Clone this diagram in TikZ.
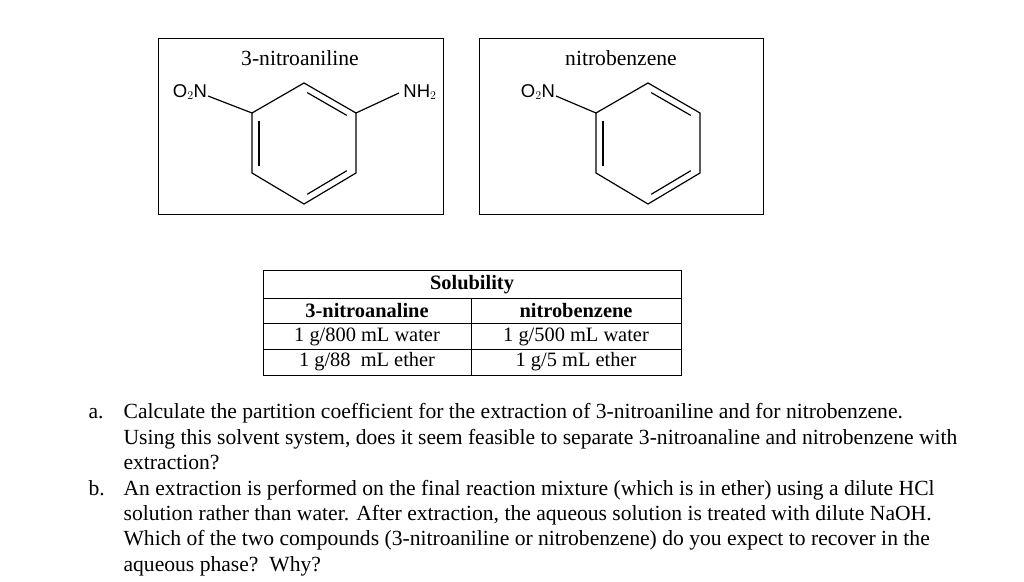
\documentclass[tikz,border=0pt]{standalone}
\usepackage{fontspec}
\usetikzlibrary{calc}
\setmainfont{Liberation Serif}
\newfontfamily\lsans{Liberation Sans}
\begin{document}
\begin{tikzpicture}[x=1pt,y=-1pt,line width=1.2pt,
  txt/.style={font=\fontsize{21.6}{24}\selectfont,inner sep=0pt},
  tb/.style={font=\fontsize{20.4}{22}\selectfont,inner sep=0pt},
  tbb/.style={font=\bfseries\fontsize{20.4}{22}\selectfont,inner sep=0pt},
  atom/.style={font=\lsans\fontsize{18.5}{20}\selectfont,inner sep=0pt},
  bond/.style={line width=1.2pt}]
\useasboundingbox (0,0) rectangle (1024,581);
% boxes
\draw[line width=1pt] (158,38) rectangle (443,214);
\draw[line width=1pt] (479,38) rectangle (763,214);
\node[txt] (t1) at (300,58) {3-nitroaniline};
\node[txt] (t2) at (621,58) {nitrobenzene};
% ring 1
\coordinate (a1) at (304,83); \coordinate (a2) at (356,113); \coordinate (a3) at (356,173);
\coordinate (a4) at (304,204); \coordinate (a5) at (252,173); \coordinate (a6) at (252,113);
\draw[bond] (a1)--(a2)--(a3)--(a4)--(a5)--(a6)--cycle;
\draw[bond] ($(a1)!0.12!(a2)+(-3,6)$) -- ($(a1)!0.88!(a2)+(-3,6)$);
\draw[bond] (259,121) -- (259,166);
\draw[bond] ($(a4)!0.12!(a3)+(-3,-6)$) -- ($(a4)!0.88!(a3)+(-3,-6)$);
\node[atom] (n1) at (190,92) {O$_2$N};
\node[atom] (n2) at (420,92) {NH$_2$};
\draw[bond] (208,96) -- (a6);
\draw[bond] (a2) -- (399,93);
% ring 2
\coordinate (b1) at (648,83); \coordinate (b2) at (700,113); \coordinate (b3) at (700,173);
\coordinate (b4) at (648,204); \coordinate (b5) at (596,173); \coordinate (b6) at (596,113);
\draw[bond] (b1)--(b2)--(b3)--(b4)--(b5)--(b6)--cycle;
\draw[bond] ($(b1)!0.12!(b2)+(-3,6)$) -- ($(b1)!0.88!(b2)+(-3,6)$);
\draw[bond] (603,121) -- (603,166);
\draw[bond] ($(b4)!0.12!(b3)+(-3,-6)$) -- ($(b4)!0.88!(b3)+(-3,-6)$);
\node[atom] (n3) at (538,92) {O$_2$N};
\draw[bond] (556,96) -- (b6);
% table
\draw[line width=0.9pt] (263,270) rectangle (681,375);
\draw[line width=0.9pt] (263,298) -- (681,298) (263,323) -- (681,323) (263,349) -- (681,349);
\draw[line width=0.9pt] (471,298) -- (471,375);
\node[tbb] (s) at (472,285) {Solubility};
\node[tbb] (h1) at (367,311) {3-nitroanaline};
\node[tbb] (h2) at (576,311) {nitrobenzene};
\node[tb] (c1) at (367,337) {1 g/800 mL water};
\node[tb] (c2) at (576,337) {1 g/500 mL water};
\node[tb] (c3) at (367,362) {1 g/88\ \ mL ether};
\node[tb] (c4) at (576,362) {1 g/5 mL ether};
% text
\node[txt,anchor=base west] (la) at (88,418) {a.};
\node[txt,anchor=base west] (l1) at (123,418) {Calculate the partition coefficient for the extraction of 3-nitroaniline and for nitrobenzene.};
\node[txt,anchor=base west] (l2) at (123,444) {Using this solvent system, does it seem feasible to separate 3-nitroanaline and nitrobenzene with};
\node[txt,anchor=base west] (l3) at (123,469) {extraction?};
\node[txt,anchor=base west] (lb) at (88,495) {b.};
\node[txt,anchor=base west] (l4) at (123,495) {An extraction is performed on the final reaction mixture (which is in ether) using a dilute HCl};
\node[txt,anchor=base west] (l5) at (123,520) {solution rather than water. After extraction, the aqueous solution is treated with dilute NaOH.};
\node[txt,anchor=base west] (l6) at (123,545) {Which of the two compounds (3-nitroaniline or nitrobenzene) do you expect to recover in the};
\node[txt,anchor=base west] (l7) at (123,571) {aqueous phase?\ \ Why?};
\end{tikzpicture}
\end{document}
